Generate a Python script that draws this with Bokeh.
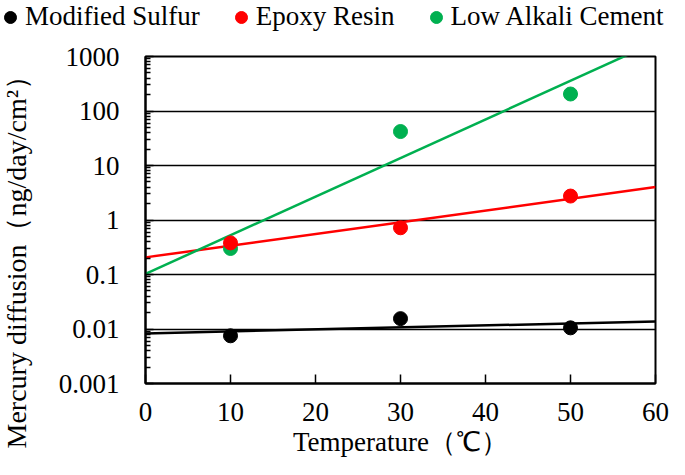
import numpy as np
from bokeh.plotting import figure
from bokeh.layouts import column, row
from bokeh.models import FixedTicker, Legend, LegendItem, Title, Range1d
from bokeh.embed import file_html
from bokeh.resources import INLINE

# ---- data ----
temps = [10, 30, 50]
sulfur = [0.0075, 0.0155, 0.0105]
epoxy = [0.38, 0.72, 2.75]
cement = [0.30, 42, 205]
series_names = ["Modified Sulfur", "Epoxy Resin", "Low Alkali Cement"]
series_colors = ["#000000", "#FF0000", "#00B050"]
y_ticks = [0.001, 0.01, 0.1, 1, 10, 100, 1000]
y_tick_labels = ["0.001", "0.01", "0.1", "1", "10", "100", "1000"]
x_ticks = [0, 10, 20, 30, 40, 50, 60]
x_limits = (0, 60)
y_limits = (0.001, 1000)
x_title = "Temperature（℃）"
y_title = "Mercury diffusion（ng/day/cm²）"

FONT = "Liberation Serif"
TOTAL_W, TOTAL_H = 669, 459
LEG_H = 32
TITLE_W = 34
FRAME_TOP, FRAME_BOTTOM, FRAME_LEFT = 56, 383, 145

# ---- main plot ----
p = figure(width=TOTAL_W - TITLE_W, height=TOTAL_H - LEG_H, y_axis_type="log",
           x_range=Range1d(*x_limits), y_range=Range1d(*y_limits),
           output_backend="svg", toolbar_location=None,
           min_border_left=FRAME_LEFT - TITLE_W, min_border_right=14,
           min_border_top=FRAME_TOP - LEG_H, min_border_bottom=TOTAL_H - FRAME_BOTTOM)
p.background_fill_color = "white"
p.border_fill_color = "white"
p.outline_line_color = "black"
p.outline_line_width = 2

p.xgrid.visible = False
p.ygrid.ticker = FixedTicker(ticks=y_ticks)
p.ygrid.grid_line_color = "black"
p.ygrid.grid_line_width = 1.5
p.ygrid.grid_line_alpha = 1.0

minor = [m * t for t in y_ticks[:-1] for m in range(2, 10)]
yax = p.yaxis[0]
yax.ticker = FixedTicker(ticks=y_ticks, minor_ticks=minor)
yax.major_label_overrides = {t: l for t, l in zip(y_ticks, y_tick_labels)}
yax.major_tick_in = 8
yax.major_tick_out = 0
yax.minor_tick_in = 5
yax.minor_tick_out = 0
yax.major_tick_line_width = 1.5
yax.minor_tick_line_width = 1.5
yax.axis_line_width = 2
yax.major_label_standoff = 26
yax.major_label_text_font = FONT
yax.major_label_text_font_size = "27px"
yax.major_label_text_color = "black"

xax = p.xaxis[0]
xax.ticker = FixedTicker(ticks=x_ticks)
xax.major_tick_in = 9
xax.major_tick_out = 0
xax.minor_tick_line_color = None
xax.major_tick_line_width = 1.5
xax.axis_line_width = 2
xax.major_label_standoff = 19
xax.major_label_text_font = FONT
xax.major_label_text_font_size = "27px"
xax.major_label_text_color = "black"
xax.axis_label = x_title
xax.axis_label_text_font = FONT
xax.axis_label_text_font_size = "27px"
xax.axis_label_text_font_style = "normal"
xax.axis_label_text_color = "black"
xax.axis_label_standoff = 3

# trend lines: exponential least-squares fits of each series
all_series = [sulfur, epoxy, cement]
xs_fit = np.array(x_limits, dtype=float)
for vals, col in zip(all_series, series_colors):
    coef = np.polyfit(temps, np.log(vals), 1)
    ys_fit = np.exp(np.polyval(coef, xs_fit))
    p.line(xs_fit, ys_fit, line_color=col, line_width=2.5)

for idx in [0, 2, 1]:
    p.scatter(temps, all_series[idx], size=14, fill_color=series_colors[idx],
              line_color=series_colors[idx], marker="circle")

# ---- legend strip (its renderers hold the series, but fall outside its range) ----
lf = figure(width=TOTAL_W, height=LEG_H, x_range=Range1d(-2, -1), y_range=Range1d(0.001, 1000),
            y_axis_type="log", output_backend="svg", toolbar_location=None,
            x_axis_location=None, y_axis_location=None, min_border=0)
lf.grid.visible = False
lf.outline_line_color = None
items = []
for name, col, vals in zip(series_names, series_colors, all_series):
    r = lf.scatter(temps, vals, size=14, fill_color=col, line_color=col, marker="circle")
    items.append(LegendItem(label=name, renderers=[r]))
legend = Legend(items=items, orientation="horizontal", location=(-5, 0),
                label_text_font=FONT, label_text_font_size="27px",
                label_text_color="black",
                glyph_width=30, glyph_height=30, label_height=30,
                label_standoff=-2, spacing=26, padding=0, margin=0,
                border_line_color=None, background_fill_alpha=0)
lf.add_layout(legend, "center")

# ---- y-axis title strip ----
tf = figure(width=TITLE_W, height=TOTAL_H - LEG_H, x_range=Range1d(0, 1), y_range=Range1d(0, 1),
            output_backend="svg", toolbar_location=None,
            x_axis_location=None, y_axis_location=None, min_border=0)
tf.grid.visible = False
tf.outline_line_color = None
tf.add_layout(Title(text=y_title, align="left", offset=-65, vertical_align="top",
                    text_font=FONT, text_font_size="28px", text_font_style="normal",
                    text_color="black", standoff=0), "left")

layout = column(lf, row(tf, p, spacing=0), spacing=0)
open("out.html", "w").write(file_html(layout, INLINE))
